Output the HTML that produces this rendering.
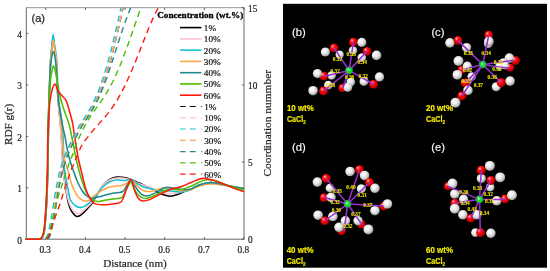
<!DOCTYPE html>
<html lang="en">
<head>
<meta charset="utf-8">
<title>RDF and coordination of CaCl2 solutions</title>
<style>
html,body{margin:0;padding:0;background:#ffffff;}
body{width:550px;height:271px;overflow:hidden;font-family:"Liberation Serif",serif;}
svg{display:block;}
</style>
</head>
<body>
<svg width="550" height="271" viewBox="0 0 550 271">
<defs>
<clipPath id="plotclip"><rect x="25.6" y="7.7" width="218.4" height="232.5"/></clipPath>
<radialGradient id="gH" cx="0.42" cy="0.40" r="0.62" fx="0.36" fy="0.32">
<stop offset="0" stop-color="#ffffff"/><stop offset="0.4" stop-color="#f0f0f0"/><stop offset="0.75" stop-color="#c8c8c8"/><stop offset="0.92" stop-color="#999999"/><stop offset="1" stop-color="#606060"/>
</radialGradient>
<radialGradient id="gO" cx="0.42" cy="0.40" r="0.62" fx="0.33" fy="0.28">
<stop offset="0" stop-color="#ffe0e0"/><stop offset="0.14" stop-color="#ff6a6a"/><stop offset="0.36" stop-color="#ff0c0c"/><stop offset="0.72" stop-color="#dc0000"/><stop offset="0.92" stop-color="#a00000"/><stop offset="1" stop-color="#600000"/>
</radialGradient>
<radialGradient id="gC" cx="0.42" cy="0.40" r="0.62" fx="0.36" fy="0.32">
<stop offset="0" stop-color="#c0ffc8"/><stop offset="0.2" stop-color="#30f44c"/><stop offset="0.6" stop-color="#00dc20"/><stop offset="0.92" stop-color="#009814"/><stop offset="1" stop-color="#00600c"/>
</radialGradient>
</defs>
<rect x="0" y="0" width="550" height="271" fill="#ffffff"/>
<g stroke="#484848" stroke-width="0.75" fill="none">
<path d="M26.3 7.7V239.2H244.0V7.7" stroke="#555555" stroke-width="0.9"/>
<path d="M26.0 7.7H244.0" stroke="#7a7a7a" stroke-width="0.8"/>
<path d="M45.8 239.3v-2.3M45.8 7.7v2.3M85.5 239.3v-2.3M85.5 7.7v2.3M125.1 239.3v-2.3M125.1 7.7v2.3M164.7 239.3v-2.3M164.7 7.7v2.3M204.4 239.3v-2.3M204.4 7.7v2.3M244.0 239.3v-2.3M244.0 7.7v2.3M26.0 239.3h2.3M26.0 187.8h2.3M26.0 136.4h2.3M26.0 84.9h2.3M26.0 33.4h2.3M244.0 239.3h-2.3M244.0 162.1h-2.3M244.0 84.9h-2.3M244.0 7.7h-2.3" stroke-width="0.8"/>
</g>
<g fill="none" stroke-linejoin="round" stroke-linecap="butt" clip-path="url(#plotclip)">
<path d="M25.0 239.3C27.3 239.3 36.1 239.4 38.8 239.3C41.5 239.2 40.6 239.1 41.3 238.5C42.0 237.9 42.5 237.5 43.1 236.0C43.6 234.5 44.1 233.1 44.6 229.6C45.1 226.1 45.5 219.7 45.9 214.8C46.3 209.9 46.5 207.5 46.8 200.0C47.1 192.5 47.6 180.8 47.9 170.0C48.2 159.2 48.2 146.7 48.4 135.0C48.6 123.3 48.8 112.2 49.2 100.0C49.6 87.8 50.1 71.2 50.6 62.0C51.1 52.8 51.8 48.8 52.2 45.0C52.7 41.2 52.9 38.8 53.3 39.0C53.7 39.2 53.9 42.2 54.4 46.0C54.9 49.8 55.8 53.8 56.3 62.0C56.8 70.2 57.0 84.5 57.7 95.0C58.4 105.5 59.8 115.8 60.5 125.0C61.2 134.2 61.8 142.7 62.2 150.0C62.6 157.3 62.7 163.8 63.1 168.9C63.5 174.0 64.0 176.7 64.6 180.7C65.1 184.7 65.8 189.3 66.4 193.0C67.0 196.7 67.7 200.4 68.4 203.0C69.1 205.6 69.6 207.1 70.4 208.8C71.2 210.5 72.0 211.9 73.0 213.2C74.0 214.5 75.5 216.0 76.7 216.4C77.9 216.8 79.0 216.1 80.0 215.6C81.0 215.1 81.3 214.8 82.6 213.6C83.9 212.4 86.1 210.0 87.7 208.3C89.3 206.6 90.9 204.8 92.1 203.2C93.3 201.6 93.1 201.4 94.8 198.6C96.5 195.8 99.7 189.8 102.2 186.6C104.7 183.4 107.1 180.9 109.6 179.3C112.0 177.7 114.5 177.4 116.9 177.1C119.4 176.8 122.0 177.0 124.3 177.4C126.6 177.8 128.5 178.6 131.0 179.5C133.5 180.4 136.1 181.6 139.2 183.0C142.3 184.4 146.4 186.2 149.6 187.7C152.8 189.2 155.9 191.0 158.4 192.2C160.9 193.4 162.3 194.4 164.3 195.1C166.3 195.8 168.0 196.3 170.2 196.2C172.4 196.1 175.0 195.3 177.4 194.5C179.8 193.7 182.4 192.3 184.8 191.3C187.2 190.3 189.7 189.7 192.1 188.6C194.5 187.5 197.0 185.8 199.5 184.9C202.0 184.0 204.7 183.4 206.9 183.0C209.1 182.6 210.3 182.5 212.8 182.7C215.3 182.9 218.5 183.6 221.7 184.2C224.9 184.8 228.3 185.6 232.0 186.4C235.7 187.2 242.0 188.4 244.0 188.8" stroke="#000000" stroke-width="1.55"/>
<path d="M25.0 239.3C27.3 239.3 36.1 239.4 38.8 239.3C41.5 239.2 40.6 239.1 41.3 238.5C42.0 237.9 42.5 237.5 43.1 236.0C43.6 234.5 44.1 233.1 44.6 229.6C45.1 226.1 45.5 219.7 45.9 214.8C46.3 209.9 46.5 207.5 46.8 200.0C47.1 192.5 47.6 180.8 47.9 170.0C48.2 159.2 48.2 146.7 48.4 135.0C48.6 123.3 48.8 112.2 49.2 100.0C49.6 87.8 50.1 71.1 50.6 62.0C51.1 52.9 51.8 49.2 52.2 45.5C52.7 41.8 52.9 39.6 53.3 39.8C53.7 40.0 53.9 42.8 54.4 46.5C54.9 50.2 55.8 53.9 56.3 62.0C56.8 70.1 57.1 84.5 57.7 95.0C58.4 105.5 59.5 115.8 60.2 125.0C60.9 134.2 61.4 142.7 61.8 150.0C62.2 157.3 62.4 163.8 62.8 168.9C63.2 174.0 63.7 176.7 64.3 180.7C64.9 184.7 65.8 189.3 66.6 193.0C67.4 196.7 68.2 200.1 69.0 202.6C69.8 205.1 70.4 206.3 71.2 207.8C72.0 209.3 72.7 210.4 73.8 211.4C74.9 212.4 76.5 213.5 77.6 213.8C78.7 214.1 79.7 213.4 80.6 213.0C81.5 212.6 81.8 212.2 83.0 211.2C84.2 210.2 86.2 208.3 87.7 206.8C89.2 205.3 90.9 203.5 92.1 202.0C93.3 200.5 93.1 200.4 94.8 197.8C96.5 195.2 99.7 189.4 102.2 186.4C104.7 183.4 107.1 181.4 109.6 180.0C112.0 178.6 114.5 178.3 116.9 178.0C119.4 177.7 122.0 177.9 124.3 178.2C126.6 178.5 128.5 178.9 131.0 179.8C133.5 180.7 136.1 182.4 139.2 183.6C142.3 184.8 146.4 186.0 149.6 187.2C152.8 188.4 155.9 190.0 158.4 191.0C160.9 192.0 162.3 192.6 164.3 193.0C166.3 193.4 168.0 193.6 170.2 193.6C172.4 193.6 175.0 193.3 177.4 192.8C179.8 192.3 182.4 191.3 184.8 190.6C187.2 189.9 189.7 189.5 192.1 188.6C194.5 187.7 197.0 185.8 199.5 184.9C202.0 184.0 204.7 183.4 206.9 183.0C209.1 182.6 210.3 182.5 212.8 182.7C215.3 182.9 218.5 183.6 221.7 184.2C224.9 184.8 228.3 185.6 232.0 186.4C235.7 187.2 242.0 188.4 244.0 188.8" stroke="#ffc0cb" stroke-width="1.55"/>
<path d="M25.0 239.3C27.3 239.3 36.0 239.4 38.7 239.3C41.4 239.2 40.5 239.1 41.2 238.5C41.9 237.9 42.5 237.5 43.0 236.0C43.5 234.5 44.0 233.1 44.5 229.6C45.0 226.1 45.4 219.7 45.8 214.8C46.2 209.9 46.4 207.5 46.7 200.0C47.0 192.5 47.5 180.8 47.8 170.0C48.1 159.2 48.1 146.7 48.3 135.0C48.5 123.3 48.6 112.2 49.0 100.0C49.4 87.8 49.9 71.3 50.4 62.0C50.9 52.7 51.5 48.6 52.0 44.0C52.5 39.4 52.8 34.6 53.2 34.6C53.6 34.6 53.8 39.4 54.4 44.0C55.0 48.6 56.3 53.5 56.9 62.0C57.5 70.5 57.2 84.5 58.1 95.0C59.0 105.5 61.5 115.8 62.4 125.0C63.3 134.2 63.2 143.4 63.5 150.0C63.8 156.6 63.5 159.5 63.9 164.4C64.3 169.3 65.2 174.3 66.1 179.2C66.9 184.1 68.3 190.5 69.0 194.0C69.7 197.5 69.8 198.4 70.5 200.0C71.2 201.6 72.0 202.5 72.9 203.5C73.8 204.5 74.6 205.3 75.8 206.0C77.0 206.7 78.7 207.5 80.2 207.6C81.7 207.7 83.1 207.0 84.6 206.3C86.0 205.6 87.2 204.7 88.9 203.2C90.6 201.7 92.6 200.1 94.8 197.5C97.0 194.9 99.7 190.3 102.2 187.7C104.7 185.1 107.1 183.1 109.6 181.8C112.0 180.5 114.5 180.2 116.9 180.0C119.4 179.8 122.0 180.7 124.3 180.6C126.6 180.5 128.8 179.0 131.0 179.6C133.2 180.2 135.6 182.8 137.7 184.0C139.8 185.2 141.1 186.1 143.6 187.0C146.1 187.9 149.8 188.6 152.5 189.2C155.2 189.8 157.3 190.1 160.0 190.4C162.7 190.7 165.5 190.5 168.8 190.8C172.1 191.1 177.0 192.0 180.0 192.0C183.0 192.0 185.0 191.6 187.0 191.0C189.0 190.4 190.0 189.6 192.1 188.6C194.2 187.6 197.0 185.8 199.5 184.9C202.0 184.0 204.7 183.4 206.9 183.0C209.1 182.6 210.3 182.5 212.8 182.7C215.3 182.9 218.5 183.6 221.7 184.2C224.9 184.8 228.3 185.7 232.0 186.4C235.7 187.1 242.0 188.2 244.0 188.5" stroke="#12c2d3" stroke-width="1.55"/>
<path d="M25.0 239.3C27.3 239.3 36.0 239.4 38.6 239.3C41.3 239.2 40.4 239.1 41.1 238.5C41.9 237.9 42.4 237.5 42.9 236.0C43.5 234.5 44.0 233.1 44.4 229.6C44.9 226.1 45.4 219.7 45.7 214.8C46.1 209.9 46.3 207.5 46.6 200.0C47.0 192.5 47.5 180.8 47.8 170.0C48.0 159.2 48.1 146.7 48.3 135.0C48.5 123.3 48.7 112.2 49.1 100.0C49.5 87.8 50.0 70.8 50.5 62.0C51.0 53.2 51.6 50.6 52.1 47.0C52.6 43.4 52.9 40.5 53.3 40.5C53.7 40.5 54.0 43.4 54.5 47.0C55.0 50.6 56.0 54.0 56.6 62.0C57.2 70.0 57.3 84.5 58.0 95.0C58.7 105.5 60.2 116.2 61.0 125.0C61.8 133.8 62.4 142.2 63.0 148.0C63.6 153.8 63.7 156.0 64.6 160.0C65.5 164.0 67.1 167.6 68.3 171.8C69.5 176.0 70.5 181.2 72.0 185.1C73.5 189.0 75.6 193.1 77.1 195.4C78.6 197.8 79.5 198.2 80.8 199.2C82.1 200.2 83.6 201.0 85.0 201.2C86.4 201.4 88.0 200.7 89.1 200.2C90.2 199.7 90.1 199.4 91.8 198.1C93.5 196.8 96.2 194.0 99.2 192.2C102.2 190.3 105.9 188.1 109.6 187.0C113.3 185.9 118.5 186.2 121.4 185.5C124.4 184.8 125.7 183.5 127.3 182.6C128.9 181.7 129.3 179.4 131.0 180.0C132.7 180.6 135.6 184.5 137.7 186.3C139.8 188.1 141.4 189.8 143.6 190.7C145.8 191.5 148.5 191.7 151.0 191.4C153.5 191.2 156.2 189.8 158.4 189.2C160.6 188.6 162.0 187.8 164.3 187.7C166.6 187.6 169.4 188.1 172.0 188.6C174.6 189.1 177.5 190.1 180.0 190.4C182.5 190.7 185.0 190.8 187.0 190.6C189.0 190.4 190.0 190.0 192.1 189.2C194.2 188.4 197.0 186.8 199.5 186.0C202.0 185.2 204.7 184.5 206.9 184.2C209.1 183.8 210.3 183.8 212.8 183.9C215.3 184.0 218.5 184.5 221.7 185.0C224.9 185.5 228.3 186.2 232.0 186.8C235.7 187.4 242.0 188.5 244.0 188.8" stroke="#ffa64d" stroke-width="1.55"/>
<path d="M25.0 239.3C27.3 239.3 35.9 239.4 38.5 239.3C41.2 239.2 40.3 239.1 41.0 238.5C41.8 237.9 42.3 237.5 42.8 236.0C43.4 234.5 43.9 233.1 44.3 229.6C44.8 226.1 45.3 219.7 45.6 214.8C46.0 209.9 46.2 207.5 46.5 200.0C46.9 192.5 47.4 180.8 47.6 170.0C47.9 159.2 48.0 146.7 48.2 135.0C48.4 123.3 48.6 111.2 49.0 100.0C49.4 88.8 49.8 75.3 50.3 68.0C50.8 60.7 51.4 58.7 51.9 56.0C52.4 53.3 52.9 51.4 53.4 51.6C53.9 51.8 54.3 53.1 54.9 57.0C55.5 60.9 56.3 67.8 56.9 75.0C57.5 82.2 57.5 91.7 58.4 100.0C59.3 108.3 61.3 119.2 62.4 125.0C63.5 130.8 63.9 131.2 64.7 135.0C65.5 138.8 66.2 143.8 67.0 148.0C67.8 152.2 68.8 156.5 69.8 160.0C70.8 163.5 71.5 165.5 72.7 168.9C73.9 172.3 75.5 177.0 77.1 180.7C78.7 184.4 80.6 188.4 82.3 191.0C84.0 193.6 85.9 195.3 87.5 196.5C89.1 197.7 90.4 198.0 91.8 198.2C93.2 198.4 94.3 198.0 96.0 197.6C97.7 197.2 99.5 196.6 102.2 195.9C105.0 195.2 109.5 193.9 112.5 193.3C115.5 192.7 118.7 192.7 120.5 192.3C122.3 191.9 122.5 192.1 123.6 190.8C124.7 189.6 126.1 186.6 127.3 184.8C128.5 183.0 129.9 180.1 131.0 180.0C132.1 179.9 132.6 182.9 133.6 184.4C134.6 185.9 135.7 187.3 137.0 189.0C138.3 190.7 139.8 193.2 141.5 194.3C143.2 195.5 145.2 196.1 147.5 195.9C149.8 195.7 152.9 194.1 155.5 192.9C158.1 191.7 160.7 189.4 162.9 188.5C165.1 187.6 166.0 187.3 168.8 187.4C171.7 187.5 177.0 188.8 180.0 189.2C183.0 189.6 185.0 189.9 187.0 189.8C189.0 189.7 190.0 189.4 192.1 188.6C194.2 187.8 197.0 185.8 199.5 184.9C202.0 184.0 204.7 183.4 206.9 183.0C209.1 182.6 210.3 182.5 212.8 182.7C215.3 182.9 218.5 183.6 221.7 184.2C224.9 184.8 228.3 185.7 232.0 186.4C235.7 187.1 242.0 188.2 244.0 188.6" stroke="#1f8a8c" stroke-width="1.55"/>
<path d="M25.0 239.3C27.2 239.3 35.8 239.4 38.5 239.3C41.2 239.2 40.3 239.1 41.0 238.5C41.7 237.9 42.2 237.5 42.8 236.0C43.3 234.5 43.8 233.1 44.3 229.6C44.8 226.1 45.2 219.7 45.6 214.8C46.0 209.9 46.2 207.5 46.5 200.0C46.8 192.5 47.4 180.8 47.6 170.0C47.8 159.2 47.6 146.7 47.8 135.0C48.0 123.3 48.5 109.2 49.0 100.0C49.5 90.8 50.0 85.1 50.5 80.0C51.0 74.9 51.7 71.8 52.2 69.5C52.7 67.2 53.1 65.8 53.6 65.9C54.1 66.0 54.4 67.7 55.0 70.0C55.6 72.3 56.2 75.8 57.0 80.0C57.8 84.2 58.4 90.0 59.6 95.0C60.8 100.0 62.4 104.9 64.0 109.8C65.6 114.7 68.0 120.4 69.2 124.6C70.4 128.8 70.6 131.1 71.4 135.0C72.2 138.9 73.2 143.8 74.0 148.0C74.8 152.2 75.4 155.5 76.4 160.0C77.4 164.5 78.8 170.1 80.1 174.8C81.4 179.5 83.2 184.6 84.5 188.0C85.8 191.4 86.8 193.1 88.0 195.0C89.2 196.9 90.2 198.2 91.8 199.3C93.4 200.4 95.8 201.3 97.7 201.5C99.7 201.7 101.5 200.8 103.5 200.5C105.5 200.2 107.2 199.7 109.6 199.4C112.0 199.1 116.0 198.8 118.0 198.5C120.0 198.2 120.7 198.2 121.6 197.6C122.5 197.0 123.0 196.1 123.6 195.2C124.2 194.3 124.3 193.7 125.2 192.0C126.1 190.3 127.8 186.5 128.8 184.8C129.8 183.1 130.2 181.4 131.0 181.8C131.8 182.2 132.5 185.2 133.4 187.0C134.3 188.8 135.2 191.0 136.4 192.6C137.6 194.2 138.8 195.7 140.5 196.7C142.2 197.7 143.8 198.7 146.3 198.4C148.8 198.1 152.5 196.4 155.5 195.1C158.5 193.8 161.6 191.7 164.3 190.7C167.1 189.7 169.1 189.4 172.0 189.2C174.9 189.0 178.5 190.0 181.8 189.4C185.2 188.8 189.2 186.9 192.1 185.7C195.0 184.5 197.0 183.0 199.5 182.0C202.0 181.0 204.4 180.0 206.9 179.8C209.4 179.6 211.1 179.8 214.3 180.6C217.5 181.4 222.7 183.7 226.1 184.9C229.5 186.1 231.9 186.9 234.9 187.8C237.9 188.7 242.5 189.7 244.0 190.1" stroke="#4dbf00" stroke-width="1.55"/>
<path d="M25.0 239.3C27.2 239.3 35.7 239.4 38.3 239.3C40.9 239.2 40.1 239.1 40.8 238.5C41.5 237.9 42.0 237.5 42.6 236.0C43.1 234.5 43.6 233.1 44.1 229.6C44.6 226.1 45.0 219.7 45.4 214.8C45.8 209.9 46.0 207.5 46.3 200.0C46.6 192.5 47.1 180.8 47.4 170.0C47.7 159.2 47.5 145.8 47.9 135.0C48.3 124.2 49.0 112.2 49.6 105.0C50.2 97.8 51.0 95.2 51.6 92.0C52.2 88.8 52.9 87.3 53.4 86.0C53.9 84.7 54.3 83.9 54.8 83.9C55.3 83.9 55.7 84.9 56.2 86.0C56.7 87.1 57.1 88.9 58.0 90.5C58.9 92.1 60.4 93.8 61.8 95.5C63.2 97.2 64.8 98.0 66.2 100.9C67.6 103.8 68.8 108.8 69.9 112.7C71.0 116.7 72.2 120.9 72.9 124.6C73.6 128.3 73.7 131.1 74.3 135.0C74.9 138.9 75.8 143.8 76.5 148.0C77.2 152.2 77.6 155.4 78.6 160.0C79.6 164.6 81.2 170.8 82.4 175.5C83.6 180.2 84.4 184.8 85.6 188.5C86.8 192.2 88.0 195.0 89.5 197.5C91.0 200.0 92.5 202.4 94.8 203.6C97.1 204.8 100.7 204.7 103.6 204.8C106.5 204.9 109.6 204.3 112.0 204.0C114.4 203.7 116.5 203.5 118.0 203.2C119.5 202.9 120.2 202.7 121.0 202.0C121.8 201.3 122.4 200.1 123.0 198.8C123.6 197.5 123.8 196.5 124.6 194.2C125.4 191.9 126.9 187.2 128.0 184.8C129.1 182.4 130.2 179.7 131.0 179.6C131.8 179.5 132.3 182.4 132.9 184.2C133.5 186.0 133.7 188.2 134.6 190.5C135.5 192.8 136.9 196.5 138.2 198.2C139.5 199.9 140.7 200.7 142.6 200.9C144.5 201.1 147.0 200.6 149.6 199.6C152.2 198.6 155.4 196.6 158.4 195.1C161.4 193.6 164.7 191.8 167.3 190.7C169.9 189.6 171.6 189.0 174.0 188.3C176.4 187.6 178.8 187.5 181.8 186.4C184.8 185.3 189.2 183.2 192.1 182.0C195.0 180.8 197.4 179.6 199.5 179.0C201.6 178.4 202.2 178.2 204.7 178.4C207.2 178.7 210.7 179.4 214.3 180.5C217.9 181.6 222.7 183.6 226.1 184.9C229.5 186.2 231.9 187.4 234.9 188.6C237.9 189.8 242.5 191.3 244.0 191.8" stroke="#ff1a0d" stroke-width="1.55"/>
<path d="M47.2 239.0C47.6 238.3 48.8 237.0 49.5 234.7C50.3 232.4 51.1 227.9 51.7 225.1C52.3 222.3 52.6 221.2 53.2 217.7C53.8 214.2 54.7 208.6 55.4 204.0C56.2 199.4 56.9 194.1 57.6 190.1C58.4 186.1 59.1 183.2 59.9 179.8C60.6 176.4 60.9 173.4 62.1 169.4C63.2 165.4 65.2 159.7 66.6 156.0C67.9 152.3 69.1 150.2 70.3 147.5C71.5 144.8 72.8 142.1 73.8 140.0C74.8 137.9 75.4 136.7 76.4 134.7C77.4 132.7 78.8 130.1 80.0 128.0C81.2 125.9 82.4 124.0 83.6 122.1C84.9 120.2 86.1 118.4 87.3 116.5C88.5 114.6 89.7 112.7 90.9 110.7C92.1 108.6 93.3 106.4 94.5 104.1C95.7 101.7 97.0 99.2 98.2 96.4C99.4 93.6 100.6 90.6 101.8 87.4C103.0 84.2 104.2 80.7 105.4 77.0C106.6 73.2 107.8 69.3 109.1 65.0C110.3 60.8 111.5 56.4 112.7 51.7C113.9 47.1 115.1 42.2 116.3 37.1C117.5 32.1 118.8 26.9 120.0 21.6C121.2 16.3 123.0 8.1 123.6 5.4" stroke="#000000" stroke-width="1.40" stroke-dasharray="6.2 4.3"/>
<path d="M47.0 239.0C47.4 238.3 48.6 237.0 49.3 234.7C50.1 232.4 50.9 227.9 51.5 225.1C52.1 222.3 52.4 221.2 53.0 217.7C53.6 214.2 54.5 208.6 55.2 204.0C56.0 199.4 56.7 194.1 57.4 190.1C58.2 186.1 58.9 183.2 59.6 179.8C60.4 176.4 60.7 173.4 61.8 169.4C62.9 165.4 65.0 159.7 66.3 156.0C67.7 152.3 68.8 150.2 70.0 147.5C71.2 144.8 72.5 142.1 73.5 140.0C74.6 137.9 75.1 136.7 76.1 134.7C77.2 132.7 78.6 130.1 79.8 128.0C81.0 125.9 82.2 124.0 83.4 122.1C84.6 120.2 85.8 118.4 87.0 116.5C88.2 114.6 89.4 112.7 90.6 110.7C91.9 108.6 93.1 106.4 94.3 104.1C95.5 101.7 96.7 99.2 97.9 96.4C99.1 93.6 100.3 90.6 101.5 87.4C102.7 84.2 103.9 80.7 105.2 77.0C106.4 73.2 107.6 69.3 108.8 65.0C110.0 60.8 111.2 56.4 112.4 51.7C113.6 47.1 114.8 42.2 116.0 37.1C117.3 32.1 118.5 26.9 119.7 21.6C120.9 16.3 122.7 8.1 123.3 5.4" stroke="#ffc0cb" stroke-width="1.40" stroke-dasharray="6.2 4.3"/>
<path d="M45.4 239.0C45.8 238.3 46.9 237.0 47.7 234.7C48.4 232.4 49.3 227.9 49.9 225.1C50.5 222.3 50.8 221.2 51.4 217.7C52.0 214.2 52.9 208.6 53.6 204.0C54.3 199.4 55.0 194.1 55.8 190.1C56.5 186.1 57.2 183.2 58.0 179.8C58.7 176.4 59.1 173.4 60.2 169.4C61.3 165.4 63.3 159.7 64.7 156.0C66.0 152.3 67.2 150.2 68.4 147.5C69.6 144.8 70.8 142.1 71.9 140.0C72.9 137.9 73.4 136.7 74.5 134.7C75.5 132.7 76.9 130.1 78.1 128.0C79.3 125.9 80.5 124.0 81.7 122.1C82.9 120.2 84.1 118.4 85.3 116.5C86.5 114.6 87.7 112.7 88.9 110.7C90.1 108.6 91.4 106.4 92.6 104.1C93.8 101.7 95.0 99.2 96.2 96.4C97.4 93.6 98.6 90.6 99.8 87.4C101.0 84.2 102.2 80.7 103.4 77.0C104.6 73.2 105.8 69.3 107.0 65.0C108.2 60.8 109.4 56.4 110.7 51.7C111.9 47.1 113.1 42.2 114.3 37.1C115.5 32.1 116.7 26.9 117.9 21.6C119.1 16.3 120.9 8.1 121.5 5.4" stroke="#12c2d3" stroke-width="1.40" stroke-dasharray="6.2 4.3"/>
<path d="M46.9 239.0C47.3 238.3 48.5 237.0 49.2 234.7C50.0 232.4 50.8 227.9 51.4 225.1C52.0 222.3 52.3 221.2 52.9 217.7C53.5 214.2 54.4 208.6 55.1 204.0C55.9 199.4 56.6 194.1 57.4 190.1C58.1 186.1 58.8 183.2 59.6 179.8C60.3 176.4 60.7 173.4 61.8 169.4C62.9 165.4 64.9 159.7 66.3 156.0C67.7 152.3 68.8 150.2 70.0 147.5C71.2 144.8 72.5 142.1 73.5 140.0C74.5 137.9 75.1 136.7 76.1 134.7C77.2 132.7 78.6 130.1 79.8 128.0C81.0 125.9 82.2 124.0 83.4 122.1C84.6 120.2 85.8 118.4 87.0 116.5C88.2 114.6 89.4 112.7 90.7 110.7C91.9 108.6 93.1 106.4 94.3 104.1C95.5 101.7 96.7 99.2 97.9 96.4C99.1 93.6 100.3 90.6 101.6 87.4C102.8 84.2 104.0 80.7 105.2 77.0C106.4 73.2 107.6 69.3 108.8 65.0C110.0 60.8 111.3 56.4 112.5 51.7C113.7 47.1 114.9 42.2 116.1 37.1C117.3 32.1 118.5 26.9 119.8 21.6C121.0 16.3 122.8 8.1 123.4 5.4" stroke="#ffa64d" stroke-width="1.40" stroke-dasharray="6.2 4.3"/>
<path d="M48.1 239.0C48.5 238.3 49.6 237.0 50.4 234.7C51.2 232.4 52.0 227.9 52.6 225.1C53.2 222.3 53.5 221.2 54.1 217.7C54.7 214.2 55.6 208.6 56.3 204.0C57.0 199.4 57.8 194.1 58.5 190.1C59.2 186.1 60.0 183.2 60.7 179.8C61.4 176.4 61.8 173.4 62.9 169.4C64.0 165.4 66.0 159.7 67.4 156.0C68.8 152.3 69.9 150.2 71.1 147.5C72.3 144.8 73.6 142.1 74.6 140.0C75.7 137.9 76.2 136.7 77.3 134.7C78.3 132.7 79.7 130.1 80.9 128.0C82.1 125.9 83.3 124.0 84.6 122.1C85.8 120.2 87.0 118.4 88.2 116.5C89.4 114.6 90.7 112.7 91.9 110.7C93.1 108.6 94.3 106.4 95.6 104.1C96.8 101.7 98.1 99.2 99.3 96.4C100.6 93.6 101.8 90.6 103.1 87.4C104.4 84.2 105.7 80.7 107.0 77.0C108.3 73.2 109.6 69.3 111.0 65.0C112.4 60.8 113.8 56.4 115.3 51.7C116.8 47.1 118.4 42.2 120.0 37.1C121.7 32.1 123.4 26.9 125.4 21.6C127.3 16.3 130.5 8.1 131.5 5.4" stroke="#1f8a8c" stroke-width="1.40" stroke-dasharray="6.2 4.3"/>
<path d="M46.4 239.0C46.9 237.8 48.5 235.2 49.5 232.0C50.5 228.8 51.6 223.8 52.5 220.0C53.4 216.2 54.2 212.4 55.0 209.0C55.8 205.6 56.4 202.8 57.3 199.7C58.2 196.5 59.3 193.2 60.3 190.1C61.3 187.0 62.3 184.4 63.3 181.3C64.3 178.2 65.1 175.0 66.2 171.6C67.3 168.2 68.8 164.2 70.0 161.0C71.2 157.8 72.4 155.4 73.6 152.2C74.8 149.0 75.9 145.2 77.3 141.8C78.7 138.4 80.2 135.2 81.7 132.1C83.2 128.9 84.8 125.8 86.3 123.1C87.8 120.3 89.4 118.0 90.9 115.7C92.5 113.4 94.0 111.3 95.5 109.2C97.1 107.0 98.6 104.9 100.1 102.7C101.7 100.5 103.2 98.3 104.7 95.8C106.3 93.4 107.8 90.8 109.3 88.1C110.9 85.3 112.4 82.3 114.0 79.2C115.5 76.0 117.0 72.6 118.6 69.0C120.1 65.4 121.6 61.6 123.2 57.7C124.7 53.7 126.2 49.6 127.8 45.3C129.3 41.1 130.8 36.6 132.4 32.2C133.9 27.8 135.5 23.3 137.0 18.9C138.5 14.5 140.8 8.1 141.6 6.0" stroke="#4dbf00" stroke-width="1.40" stroke-dasharray="6.2 4.3"/>
<path d="M47.0 239.0C47.5 238.0 49.0 235.6 50.0 233.0C51.0 230.4 51.8 226.9 52.9 223.6C54.0 220.3 55.4 216.7 56.6 213.3C57.8 209.9 59.2 206.4 60.3 203.0C61.4 199.6 62.2 196.5 63.3 193.1C64.4 189.7 65.8 186.0 66.9 182.7C68.0 179.4 68.8 176.1 69.9 173.1C71.0 170.1 72.2 167.8 73.6 164.5C74.9 161.2 76.5 157.0 78.0 153.6C79.5 150.2 80.8 146.9 82.5 144.0C84.2 141.1 86.5 138.7 88.4 136.3C90.3 133.9 92.0 131.6 93.8 129.5C95.6 127.3 97.5 125.5 99.3 123.4C101.1 121.4 102.9 119.5 104.7 117.4C106.5 115.2 108.3 113.0 110.1 110.6C111.9 108.2 113.7 105.6 115.6 102.7C117.4 99.8 119.2 96.7 121.0 93.3C122.8 90.0 124.6 86.4 126.4 82.5C128.2 78.7 130.0 74.6 131.8 70.3C133.7 66.1 135.5 61.6 137.3 57.1C139.1 52.6 140.9 47.9 142.7 43.3C144.5 38.7 146.3 34.0 148.1 29.7C149.9 25.3 151.8 20.9 153.6 17.0C155.4 13.2 158.1 8.3 159.0 6.6" stroke="#ff1a0d" stroke-width="1.40" stroke-dasharray="6.2 4.3"/>
</g>
<g font-family="'Liberation Serif', serif" fill="#1c1c1c" stroke="#1c1c1c" stroke-width="0.2" font-size="9.3">
<text x="45.2" y="253.3" text-anchor="middle">0.3</text>
<text x="84.9" y="253.3" text-anchor="middle">0.4</text>
<text x="124.5" y="253.3" text-anchor="middle">0.5</text>
<text x="164.1" y="253.3" text-anchor="middle">0.6</text>
<text x="203.8" y="253.3" text-anchor="middle">0.7</text>
<text x="243.4" y="253.3" text-anchor="middle">0.8</text>
<text x="22.0" y="243.8" text-anchor="end">0</text>
<text x="22.0" y="192.3" text-anchor="end">1</text>
<text x="22.0" y="140.9" text-anchor="end">2</text>
<text x="22.0" y="89.4" text-anchor="end">3</text>
<text x="22.0" y="37.9" text-anchor="end">4</text>
<text x="248.0" y="243.3">0</text>
<text x="248.0" y="166.1">5</text>
<text x="248.0" y="88.9">10</text>
<text x="248.0" y="11.7">15</text>
</g>
<g font-family="'Liberation Serif', serif" fill="#1c1c1c" stroke="#1c1c1c" stroke-width="0.2" font-size="11.2">
<text x="135" y="266.5" text-anchor="middle">Distance (nm)</text>
<text transform="translate(12.2 124.4) rotate(-90)" text-anchor="middle">RDF g(r)</text>
<text transform="translate(271.2 123.3) rotate(-90)" text-anchor="middle" font-size="11.4">Coordination nummber</text>
</g>
<text x="31.6" y="22.4" font-family="'Liberation Sans', sans-serif" font-size="11" fill="#262626" stroke="#262626" stroke-width="0.25">(a)</text>
<g font-family="'Liberation Serif', serif" fill="#111111" stroke="#111111" stroke-width="0.2">
<text x="157.2" y="17.9" font-size="9.2" font-weight="bold" fill="#000000" stroke="#000000" stroke-width="0.3" textLength="86" lengthAdjust="spacingAndGlyphs">Concentration (wt.%)</text>
<path d="M180 27.6H201.4" stroke="#000000" stroke-width="1.6" fill="none"/>
<text x="203.8" y="31.0" font-size="9.2">1%</text>
<path d="M180 38.9H201.4" stroke="#ffc0cb" stroke-width="1.6" fill="none"/>
<text x="203.8" y="42.3" font-size="9.2">10%</text>
<path d="M180 50.1H201.4" stroke="#12c2d3" stroke-width="1.6" fill="none"/>
<text x="203.8" y="53.5" font-size="9.2">20%</text>
<path d="M180 61.4H201.4" stroke="#ffa64d" stroke-width="1.6" fill="none"/>
<text x="203.8" y="64.8" font-size="9.2">30%</text>
<path d="M180 72.7H201.4" stroke="#1f8a8c" stroke-width="1.6" fill="none"/>
<text x="203.8" y="76.1" font-size="9.2">40%</text>
<path d="M180 83.9H201.4" stroke="#4dbf00" stroke-width="1.6" fill="none"/>
<text x="203.8" y="87.3" font-size="9.2">50%</text>
<path d="M180 95.2H201.4" stroke="#ff1a0d" stroke-width="1.6" fill="none"/>
<text x="203.8" y="98.6" font-size="9.2">60%</text>
<path d="M180.2 106.5H185.5M189.8 106.5H195.7M201.2 106.5H202.2" stroke="#000000" stroke-width="1.15" fill="none"/>
<text x="204.2" y="109.9" font-size="9.2">1%</text>
<path d="M180.2 117.8H185.5M189.8 117.8H195.7M201.2 117.8H202.2" stroke="#ffc0cb" stroke-width="1.15" fill="none"/>
<text x="204.2" y="121.2" font-size="9.2">10%</text>
<path d="M180.2 129.0H185.5M189.8 129.0H195.7M201.2 129.0H202.2" stroke="#12c2d3" stroke-width="1.15" fill="none"/>
<text x="204.2" y="132.4" font-size="9.2">20%</text>
<path d="M180.2 140.3H185.5M189.8 140.3H195.7M201.2 140.3H202.2" stroke="#ffa64d" stroke-width="1.15" fill="none"/>
<text x="204.2" y="143.7" font-size="9.2">30%</text>
<path d="M180.2 151.6H185.5M189.8 151.6H195.7M201.2 151.6H202.2" stroke="#1f8a8c" stroke-width="1.15" fill="none"/>
<text x="204.2" y="155.0" font-size="9.2">40%</text>
<path d="M180.2 162.8H185.5M189.8 162.8H195.7M201.2 162.8H202.2" stroke="#4dbf00" stroke-width="1.15" fill="none"/>
<text x="204.2" y="166.2" font-size="9.2">50%</text>
<path d="M180.2 174.1H185.5M189.8 174.1H195.7M201.2 174.1H202.2" stroke="#ff1a0d" stroke-width="1.15" fill="none"/>
<text x="204.2" y="177.5" font-size="9.2">60%</text>
</g>
<rect x="283" y="3.8" width="264" height="263.9" fill="#000000"/>
<circle cx="353.0" cy="50.5" r="4.3" fill="url(#gH)"/>
<circle cx="353.4" cy="42.1" r="4.4" fill="url(#gO)"/>
<circle cx="361.8" cy="42.4" r="4.6" fill="url(#gH)"/>
<circle cx="339.7" cy="54.7" r="4.2" fill="url(#gH)"/>
<circle cx="334.1" cy="48.0" r="4.4" fill="url(#gO)"/>
<circle cx="325.4" cy="52.0" r="4.6" fill="url(#gH)"/>
<circle cx="361.8" cy="57.6" r="4.3" fill="url(#gH)"/>
<circle cx="367.0" cy="51.4" r="4.3" fill="url(#gO)"/>
<circle cx="376.6" cy="55.4" r="4.8" fill="url(#gH)"/>
<circle cx="331.6" cy="75.5" r="4.3" fill="url(#gH)"/>
<circle cx="323.9" cy="76.2" r="4.4" fill="url(#gO)"/>
<circle cx="317.5" cy="73.6" r="4.6" fill="url(#gH)"/>
<circle cx="328.3" cy="85.1" r="4.3" fill="url(#gH)"/>
<circle cx="323.5" cy="91.0" r="4.4" fill="url(#gO)"/>
<circle cx="313.1" cy="90.7" r="4.8" fill="url(#gH)"/>
<circle cx="350.8" cy="82.1" r="4.3" fill="url(#gH)"/>
<circle cx="342.6" cy="88.0" r="4.3" fill="url(#gO)"/>
<circle cx="347.8" cy="87.3" r="4.6" fill="url(#gH)"/>
<circle cx="364.0" cy="81.4" r="4.5" fill="url(#gH)"/>
<circle cx="379.5" cy="77.0" r="4.7" fill="url(#gH)"/>
<circle cx="373.6" cy="84.4" r="4.4" fill="url(#gO)"/>
<circle cx="349.1" cy="70.5" r="3.9" fill="url(#gC)"/>
<g stroke="#9630cc" stroke-width="1.55" stroke-linecap="round">
<line x1="349.4" y1="68.3" x2="353.4" y2="42.5"/>
<line x1="347.9" y1="68.7" x2="334.4" y2="48.4"/>
<line x1="350.6" y1="68.9" x2="366.6" y2="51.8"/>
<line x1="347.0" y1="71.0" x2="324.3" y2="76.2"/>
<line x1="347.4" y1="71.9" x2="324.0" y2="90.6"/>
<line x1="348.4" y1="72.6" x2="343.0" y2="87.6"/>
<line x1="351.0" y1="71.6" x2="373.2" y2="84.0"/>
</g>
<circle cx="349.1" cy="70.5" r="2.9" fill="#10e030"/>
<circle cx="348.5" cy="69.8" r="1.1" fill="#90ffa0"/>
<g font-family="'Liberation Serif', serif" font-weight="bold" font-size="5.3" fill="#efe700" stroke="#efe700" stroke-width="0.12" text-anchor="middle">
<text x="337.5" y="61.4">0.32</text>
<text x="351.2" y="56.4">0.35</text>
<text x="362.2" y="63.7">0.34</text>
<text x="335.2" y="72.5">0.32</text>
<text x="349.6" y="79.4">0.36</text>
<text x="363.2" y="77.5">0.32</text>
<text x="330.6" y="87.4">0.38</text>
</g>
<circle cx="488.7" cy="35.1" r="4.3" fill="url(#gO)"/>
<circle cx="488.4" cy="43.6" r="4.5" fill="url(#gH)"/>
<circle cx="488.9" cy="41.4" r="4.9" fill="url(#gH)"/>
<circle cx="466.6" cy="47.6" r="4.6" fill="url(#gH)"/>
<circle cx="450.0" cy="42.9" r="4.8" fill="url(#gH)"/>
<circle cx="458.0" cy="40.5" r="4.4" fill="url(#gO)"/>
<circle cx="458.5" cy="61.0" r="5.0" fill="url(#gH)"/>
<circle cx="461.8" cy="69.9" r="4.1" fill="url(#gO)"/>
<circle cx="467.3" cy="66.2" r="4.6" fill="url(#gH)"/>
<circle cx="457.4" cy="74.8" r="4.9" fill="url(#gH)"/>
<circle cx="471.7" cy="76.6" r="4.3" fill="url(#gH)"/>
<circle cx="465.4" cy="82.9" r="4.5" fill="url(#gO)"/>
<circle cx="468.0" cy="90.4" r="4.8" fill="url(#gH)"/>
<circle cx="461.8" cy="95.9" r="4.5" fill="url(#gO)"/>
<circle cx="455.5" cy="102.8" r="5.0" fill="url(#gH)"/>
<circle cx="515.6" cy="60.6" r="4.4" fill="url(#gO)"/>
<circle cx="509.4" cy="58.1" r="4.8" fill="url(#gH)"/>
<circle cx="503.5" cy="62.5" r="4.3" fill="url(#gH)"/>
<circle cx="499.5" cy="66.0" r="4.1" fill="url(#gH)"/>
<circle cx="510.1" cy="67.7" r="4.0" fill="url(#gO)"/>
<circle cx="505.0" cy="65.5" r="4.1" fill="url(#gH)"/>
<circle cx="496.3" cy="86.8" r="4.6" fill="url(#gH)"/>
<circle cx="501.3" cy="82.7" r="4.5" fill="url(#gO)"/>
<circle cx="510.1" cy="81.1" r="4.8" fill="url(#gH)"/>
<circle cx="482.8" cy="64.6" r="3.9" fill="url(#gC)"/>
<g stroke="#9630cc" stroke-width="1.55" stroke-linecap="round">
<line x1="483.2" y1="62.4" x2="488.7" y2="35.5"/>
<line x1="481.2" y1="63.1" x2="458.4" y2="40.9"/>
<line x1="480.7" y1="65.1" x2="462.2" y2="69.9"/>
<line x1="481.3" y1="66.2" x2="465.6" y2="82.6"/>
<line x1="481.6" y1="66.4" x2="462.4" y2="95.2"/>
<line x1="485.0" y1="64.3" x2="512.4" y2="60.4"/>
<line x1="485.0" y1="64.9" x2="508.4" y2="68.2"/>
<line x1="484.4" y1="66.1" x2="501.0" y2="82.3"/>
</g>
<circle cx="482.8" cy="64.6" r="2.9" fill="#10e030"/>
<circle cx="482.2" cy="63.9" r="1.1" fill="#90ffa0"/>
<g font-family="'Liberation Serif', serif" font-weight="bold" font-size="5.3" fill="#efe700" stroke="#efe700" stroke-width="0.12" text-anchor="middle">
<text x="468.3" y="54.8">0.35</text>
<text x="486.2" y="54.5">0.34</text>
<text x="498.3" y="64.0">0.32</text>
<text x="496.8" y="70.9">0.32</text>
<text x="492.2" y="78.5">0.36</text>
<text x="467.6" y="71.9">0.32</text>
<text x="466.0" y="83.0">0.33</text>
<text x="478.3" y="86.7">0.37</text>
</g>
<circle cx="350.1" cy="171.5" r="4.8" fill="url(#gH)"/>
<circle cx="359.4" cy="169.6" r="4.3" fill="url(#gO)"/>
<circle cx="364.6" cy="175.5" r="4.8" fill="url(#gH)"/>
<circle cx="361.4" cy="188.8" r="4.6" fill="url(#gH)"/>
<circle cx="369.5" cy="182.4" r="4.4" fill="url(#gO)"/>
<circle cx="375.0" cy="188.3" r="4.8" fill="url(#gH)"/>
<circle cx="329.9" cy="188.0" r="4.3" fill="url(#gH)"/>
<circle cx="317.4" cy="182.1" r="4.8" fill="url(#gH)"/>
<circle cx="326.2" cy="178.5" r="4.4" fill="url(#gO)"/>
<circle cx="324.0" cy="197.6" r="4.3" fill="url(#gO)"/>
<circle cx="331.0" cy="197.4" r="4.8" fill="url(#gH)"/>
<circle cx="375.0" cy="210.7" r="4.8" fill="url(#gH)"/>
<circle cx="383.8" cy="206.2" r="4.2" fill="url(#gO)"/>
<circle cx="387.5" cy="204.0" r="4.8" fill="url(#gH)"/>
<circle cx="318.1" cy="215.2" r="4.8" fill="url(#gH)"/>
<circle cx="332.9" cy="216.5" r="4.8" fill="url(#gH)"/>
<circle cx="324.8" cy="220.9" r="4.3" fill="url(#gO)"/>
<circle cx="345.4" cy="220.8" r="4.8" fill="url(#gH)"/>
<circle cx="341.7" cy="231.0" r="4.0" fill="url(#gO)"/>
<circle cx="339.0" cy="227.3" r="4.8" fill="url(#gH)"/>
<circle cx="361.4" cy="224.3" r="4.3" fill="url(#gO)"/>
<circle cx="358.0" cy="220.7" r="4.7" fill="url(#gH)"/>
<circle cx="368.4" cy="229.4" r="5.0" fill="url(#gH)"/>
<circle cx="347.6" cy="204.0" r="3.9" fill="url(#gC)"/>
<g stroke="#9630cc" stroke-width="1.55" stroke-linecap="round">
<line x1="348.3" y1="201.9" x2="359.2" y2="170.4"/>
<line x1="349.2" y1="202.5" x2="369.2" y2="182.8"/>
<line x1="346.2" y1="202.3" x2="326.6" y2="178.9"/>
<line x1="345.5" y1="203.4" x2="324.6" y2="197.6"/>
<line x1="349.8" y1="204.1" x2="383.0" y2="206.1"/>
<line x1="345.8" y1="205.3" x2="325.2" y2="220.5"/>
<line x1="347.3" y1="206.2" x2="344.2" y2="230.7"/>
<line x1="348.9" y1="205.8" x2="362.0" y2="224.6"/>
</g>
<circle cx="347.6" cy="204.0" r="2.9" fill="#10e030"/>
<circle cx="347.0" cy="203.3" r="1.1" fill="#90ffa0"/>
<g font-family="'Liberation Serif', serif" font-weight="bold" font-size="5.3" fill="#efe700" stroke="#efe700" stroke-width="0.12" text-anchor="middle">
<text x="337.3" y="192.6">0.35</text>
<text x="351.0" y="188.8">0.40</text>
<text x="362.2" y="196.6">0.31</text>
<text x="335.1" y="204.4">0.32</text>
<text x="367.9" y="206.8">0.37</text>
<text x="336.3" y="212.3">0.30</text>
<text x="356.0" y="216.3">0.37</text>
<text x="347.8" y="228.1">0.32</text>
</g>
<circle cx="481.3" cy="178.5" r="4.6" fill="url(#gH)"/>
<circle cx="481.3" cy="170.3" r="4.5" fill="url(#gO)"/>
<circle cx="489.9" cy="165.9" r="5.0" fill="url(#gH)"/>
<circle cx="490.2" cy="187.3" r="4.3" fill="url(#gH)"/>
<circle cx="490.9" cy="180.4" r="4.5" fill="url(#gO)"/>
<circle cx="500.2" cy="177.4" r="5.0" fill="url(#gH)"/>
<circle cx="448.1" cy="186.3" r="4.0" fill="url(#gO)"/>
<circle cx="452.5" cy="183.6" r="5.0" fill="url(#gH)"/>
<circle cx="454.8" cy="194.0" r="4.8" fill="url(#gH)"/>
<circle cx="463.6" cy="199.2" r="4.6" fill="url(#gH)"/>
<circle cx="454.8" cy="203.0" r="4.3" fill="url(#gO)"/>
<circle cx="454.8" cy="208.8" r="5.0" fill="url(#gH)"/>
<circle cx="496.8" cy="200.8" r="4.8" fill="url(#gH)"/>
<circle cx="505.0" cy="199.0" r="4.4" fill="url(#gO)"/>
<circle cx="512.0" cy="195.3" r="5.0" fill="url(#gH)"/>
<circle cx="462.9" cy="214.8" r="4.8" fill="url(#gH)"/>
<circle cx="470.7" cy="218.3" r="4.3" fill="url(#gO)"/>
<circle cx="476.9" cy="214.8" r="4.8" fill="url(#gH)"/>
<circle cx="475.4" cy="232.6" r="4.3" fill="url(#gH)"/>
<circle cx="490.9" cy="233.3" r="4.8" fill="url(#gH)"/>
<circle cx="480.6" cy="232.6" r="4.5" fill="url(#gO)"/>
<circle cx="479.5" cy="199.4" r="3.9" fill="url(#gC)"/>
<g stroke="#9630cc" stroke-width="1.55" stroke-linecap="round">
<line x1="479.6" y1="197.2" x2="481.3" y2="170.8"/>
<line x1="480.6" y1="197.5" x2="490.6" y2="181.0"/>
<line x1="477.5" y1="198.6" x2="448.6" y2="186.6"/>
<line x1="477.3" y1="199.7" x2="455.4" y2="203.0"/>
<line x1="481.7" y1="199.4" x2="505.0" y2="199.4"/>
<line x1="478.6" y1="201.4" x2="470.9" y2="217.8"/>
<line x1="479.6" y1="201.6" x2="480.3" y2="232.0"/>
</g>
<circle cx="479.5" cy="199.4" r="2.9" fill="#10e030"/>
<circle cx="478.9" cy="198.7" r="1.1" fill="#90ffa0"/>
<g font-family="'Liberation Serif', serif" font-weight="bold" font-size="5.3" fill="#efe700" stroke="#efe700" stroke-width="0.12" text-anchor="middle">
<text x="463.9" y="193.6">0.36</text>
<text x="477.6" y="189.5">0.33</text>
<text x="488.2" y="195.5">0.32</text>
<text x="489.6" y="202.8">0.31</text>
<text x="465.1" y="204.9">0.34</text>
<text x="472.2" y="210.8">0.43</text>
<text x="484.5" y="215.2">0.34</text>
</g>
<g font-family="'Liberation Sans', sans-serif" font-size="11.2" fill="#f6f6f6" stroke="#f6f6f6" stroke-width="0.2">
<text x="292.0" y="36.3">(b)</text>
<text x="431.4" y="36.3">(c)</text>
<text x="292.0" y="150.8">(d)</text>
<text x="431.2" y="151.0">(e)</text>
</g>
<g font-family="'Liberation Sans', sans-serif" font-weight="bold" font-size="8.3" fill="#f0e800" stroke="#f0e800" stroke-width="0.2"><text x="286.9" y="111.4" textLength="26.9" lengthAdjust="spacingAndGlyphs">10 wt%</text><text x="286.9" y="121.9" textLength="18.8" lengthAdjust="spacingAndGlyphs">CaCl<tspan font-size="5.2" dy="1.7">2</tspan></text></g>
<g font-family="'Liberation Sans', sans-serif" font-weight="bold" font-size="8.3" fill="#f0e800" stroke="#f0e800" stroke-width="0.2"><text x="426.1" y="111.4" textLength="26.9" lengthAdjust="spacingAndGlyphs">20 wt%</text><text x="426.1" y="122.0" textLength="18.8" lengthAdjust="spacingAndGlyphs">CaCl<tspan font-size="5.2" dy="1.7">2</tspan></text></g>
<g font-family="'Liberation Sans', sans-serif" font-weight="bold" font-size="8.3" fill="#f0e800" stroke="#f0e800" stroke-width="0.2"><text x="286.7" y="253.4" textLength="26.9" lengthAdjust="spacingAndGlyphs">40 wt%</text><text x="286.7" y="263.9" textLength="18.8" lengthAdjust="spacingAndGlyphs">CaCl<tspan font-size="5.2" dy="1.7">2</tspan></text></g>
<g font-family="'Liberation Sans', sans-serif" font-weight="bold" font-size="8.3" fill="#f0e800" stroke="#f0e800" stroke-width="0.2"><text x="426.1" y="253.3" textLength="26.9" lengthAdjust="spacingAndGlyphs">60 wt%</text><text x="426.1" y="263.8" textLength="18.8" lengthAdjust="spacingAndGlyphs">CaCl<tspan font-size="5.2" dy="1.7">2</tspan></text></g>
</svg>
</body>
</html>
